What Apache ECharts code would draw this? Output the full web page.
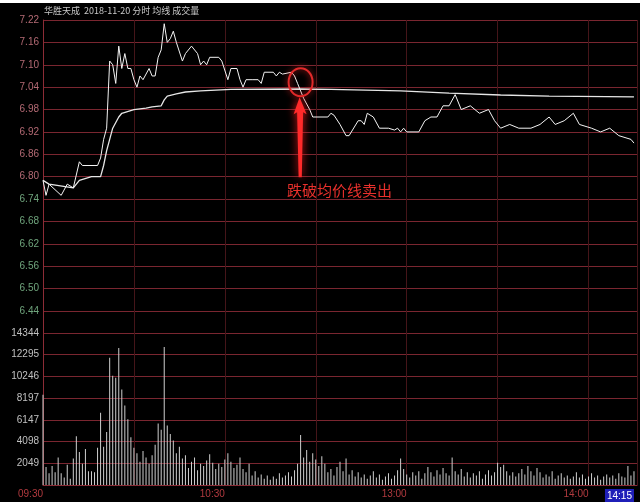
<!DOCTYPE html>
<html><head><meta charset="utf-8">
<script src="https://cdn.jsdelivr.net/npm/echarts@6/dist/echarts.min.js"></script>
<style>html,body{margin:0;padding:0;background:#000;}#c{width:640px;height:502px;}</style>
</head><body><div id="c"></div>
<script>
const titleText = '华胜天成  2018-11-20 分时 均线 成交量';
const noteText = '跌破均价线卖出';
const timeLabels = ['09:30', '10:30', '13:00', '14:00', '14:15'];
const timeLabelMinutes = [0, 60, 120, 180, 195];
const priceMin = 6.44, priceMax = 7.22, priceStep = 0.06;
const volTop = 14344;

const priceMinutes = [0,1,2,6,8,10,12,13,18,19,20,21,22,23,24,25,26,27,28,29,30,31,32,33,35,36,37,38,39,40,41,42,43,44,46,47,49,51,52,53,54,55,58,59,61,62,64,65,66,67,69,71,72,73,76,77,78,79,82,83,84,86,88,89,94,95,96,98,100,101,104,105,106,107,109,111,114,116,117,118,119,120,124,126,128,130,132,134,136,138,141,144,147,149,151,154,157,161,164,167,169,172,175,177,181,184,187,190,194,195];
const priceValues = [6.79,6.75,6.78,6.75,6.78,6.77,6.84,6.83,6.83,6.85,6.90,6.93,7.11,7.10,7.05,7.15,7.09,7.13,7.09,7.09,7.06,7.04,7.07,7.06,7.09,7.07,7.07,7.12,7.14,7.21,7.16,7.17,7.19,7.16,7.11,7.13,7.15,7.13,7.10,7.11,7.10,7.12,7.12,7.11,7.06,7.09,7.09,7.06,7.04,7.06,7.06,7.06,7.05,7.08,7.08,7.07,7.08,7.075,7.08,7.07,7.05,7.01,6.98,6.96,6.96,6.97,6.965,6.94,6.91,6.91,6.95,6.95,6.94,6.97,6.96,6.93,6.93,6.925,6.93,6.92,6.93,6.92,6.92,6.95,6.96,6.96,6.99,6.99,7.02,6.98,6.99,6.97,6.98,6.95,6.93,6.94,6.93,6.93,6.94,6.96,6.94,6.95,6.97,6.94,6.93,6.92,6.93,6.91,6.90,6.89];

const avgMinutes = [0,2,10,12,16,19,20,21,22,23,25,26,30,34,36,39,40,41,44,47,52,62,85,95,118,134,151,167,195];
const avgValues = [6.79,6.78,6.77,6.79,6.80,6.80,6.83,6.87,6.90,6.93,6.96,6.97,6.98,6.984,6.987,6.99,7.006,7.016,7.022,7.027,7.03,7.034,7.035,7.034,7.03,7.024,7.019,7.016,7.014];

const volumes = [8500,1700,1100,1800,1200,2600,1100,700,1900,600,2500,4600,3100,2000,3400,1300,1300,1200,3500,6800,
3600,5000,12000,10300,10100,12900,9000,7500,6200,4500,3500,3000,2200,3200,2600,2000,2800,3800,5800,5200,
13000,5600,4800,4200,3000,3600,2500,2800,1600,2200,2600,1400,2000,1800,2300,2900,2100,1500,2000,1700,
2400,3000,2200,1600,1900,2600,1500,1200,2000,900,1300,700,1000,600,900,500,800,600,1100,700,
900,1200,800,1400,2000,4700,2600,3300,2200,3000,2400,1800,2700,2000,1200,1500,900,1700,2200,1300,
2500,1000,1400,800,1200,700,1000,600,900,1300,700,1000,500,800,1100,600,900,1400,2500,1500,
1000,700,1200,900,1300,600,1100,1700,1200,800,1400,1000,1600,1100,900,2600,1300,1000,1500,800,
1200,700,1100,900,1300,600,1000,1400,900,1200,2100,1700,1900,1300,900,1200,800,1100,1500,1000,
1800,1300,900,1600,1200,700,1000,800,1300,600,900,1100,700,900,600,800,1200,700,1000,600,
800,1100,700,900,500,800,1000,700,900,600,1100,800,700,1800,900,1300];

const chart = echarts.init(document.getElementById('c'), null, {renderer: 'canvas'});
const gridLeft = 43, gridRight = 3;
const hLine = '#7a2630', vLine = '#451519', axisRed = '#8c2c36';
const numFont = 'Liberation Sans, Arial, sans-serif';
const volStep = volTop / 7;

const xBase = {
  type: 'value', min: 0, max: 196, interval: 30,
  axisLine: {show: true, lineStyle: {color: axisRed}},
  axisTick: {show: false},
  splitLine: {show: true, lineStyle: {color: vLine, width: 1}}
};

chart.setOption({
  backgroundColor: '#000',
  animation: false,
  grid: [
    {left: gridLeft, right: gridRight, top: 20, height: 291},
    {left: gridLeft, right: gridRight, top: 311, height: 179}
  ],
  xAxis: [
    Object.assign({}, xBase, {gridIndex: 0, axisLabel: {show: false}, axisLine: {show: false}}),
    Object.assign({}, xBase, {gridIndex: 1,
      axisLabel: {
        show: true, customValues: timeLabelMinutes, align: 'right', margin: 4,
        fontSize: 10, fontFamily: numFont, color: '#b23a3f',
        formatter: v => {
          const i = timeLabelMinutes.indexOf(v);
          if (i < 0) return '';
          return i === timeLabels.length - 1 ? '{hl|' + timeLabels[i] + '}' : timeLabels[i];
        },
        rich: {hl: {backgroundColor: '#1f1fb8', color: '#ffffff', fontSize: 10, fontFamily: numFont, padding: [2, 2, 1, 2]}}
      }})
  ],
  yAxis: [
    {type: 'value', gridIndex: 0, min: priceMin, max: priceMax, interval: priceStep,
      axisLine: {show: true, lineStyle: {color: axisRed}}, axisTick: {show: false},
      splitLine: {show: true, lineStyle: {color: hLine}},
      axisLabel: {fontSize: 10, fontFamily: numFont, margin: 4,
        formatter: v => v.toFixed(2),
        color: v => v >= 6.795 ? '#b46a74' : '#6fa47c'}},
    {type: 'value', gridIndex: 1, min: 0, max: volStep * 8, interval: volStep,
      axisLine: {show: true, lineStyle: {color: axisRed}}, axisTick: {show: false},
      splitLine: {show: true, lineStyle: {color: hLine}},
      axisLabel: {fontSize: 10, fontFamily: numFont, margin: 4, color: '#c0c0c0', showMinLabel: false,
        formatter: v => (v > volTop + 10 || v < 1) ? '' : String(Math.round(v))}}
  ],
  series: [
    {type: 'bar', xAxisIndex: 1, yAxisIndex: 1, barWidth: 1,
      itemStyle: {color: '#cfcfcf'},
      data: volumes.map((v, i) => [i, v])},
    {type: 'line', xAxisIndex: 0, yAxisIndex: 0, symbol: 'none',
      lineStyle: {color: '#e6e6e6', width: 1.3},
      data: avgMinutes.map((m, i) => [m, avgValues[i]])},
    {type: 'line', xAxisIndex: 0, yAxisIndex: 0, symbol: 'none',
      lineStyle: {color: '#f4f4f4', width: 1},
      data: priceMinutes.map((m, i) => [m, priceValues[i]])}
  ]
});

const anchor = chart.convertToPixel({gridIndex: 0}, [85, 7.04]);
const ax = anchor[0], ay = anchor[1];
chart.setOption({
  graphic: [
    {type: 'rect', left: 0, top: 0, shape: {width: 640, height: 3}, style: {fill: '#ffffff'}, z: 100},
    {type: 'text', left: 44, top: 6, z: 100,
      style: {text: titleText, fill: '#c8c8c8', fontSize: 9, fontFamily: 'Noto Sans CJK SC, sans-serif'}},
    {type: 'ellipse', z: 100, shape: {cx: ax, cy: ay - 5, rx: 12, ry: 14},
      style: {fill: 'none', stroke: '#e22a2a', lineWidth: 2, shadowBlur: 6, shadowColor: 'rgba(255,40,40,0.8)'}},
    {type: 'polygon', z: 100,
      shape: {points: [[ax - 1, ay + 10], [ax + 6, ay + 27], [ax + 2.5, ay + 25], [ax + 1.2, ay + 90], [ax - 2, ay + 90], [ax - 3.5, ay + 25], [ax - 7, ay + 27]]},
      style: {fill: '#ff2a2a', shadowBlur: 8, shadowColor: 'rgba(255,30,30,0.9)'}},
    {type: 'text', z: 100, x: ax + 39, y: ay + 103,
      style: {text: noteText, fill: '#e8302c', fontSize: 15, fontFamily: 'Noto Sans CJK SC, sans-serif',
        align: 'center', verticalAlign: 'middle', shadowBlur: 4, shadowColor: 'rgba(255,40,40,0.6)'}}
  ]
});
</script>
</body></html>
